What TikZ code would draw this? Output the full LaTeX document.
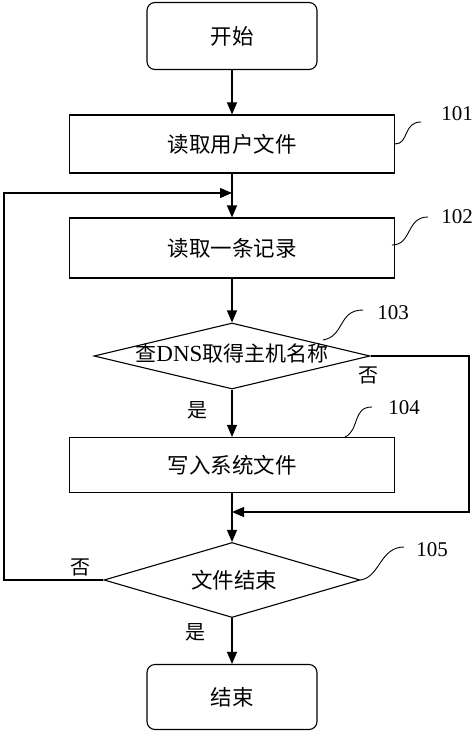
\documentclass[tikz,border=0pt]{standalone}
\usepackage{fontspec}
\setmainfont{Liberation Serif}
\newfontfamily\cjk{Noto Sans CJK SC}
\usetikzlibrary{shapes.geometric,arrows.meta}
\begin{document}
\begin{tikzpicture}[x=1pt,y=-1pt,
  line width=1.1pt,
  arr/.style={-{Triangle[length=12pt,width=10pt]}},
  txt/.style={font=\cjk\fontsize{21.5}{24}\selectfont},
  term/.style={draw,rounded corners=8pt,minimum width=170pt,minimum height=67pt,inner sep=0pt,txt},
  proc/.style={draw,minimum width=325pt,inner sep=0pt,txt},
  dia/.style={draw,diamond,inner sep=0pt},
  num/.style={font=\fontsize{21}{24}\selectfont,inner sep=0pt},
  yn/.style={font=\cjk\fontsize{20}{22}\selectfont,inner sep=0pt}]
\useasboundingbox (0,0) rectangle (474,733);
\node[term] (start) at (232,36) {开始};
\node[proc,minimum height=58pt] (b101) at (232,144) {读取用户文件};
\node[proc,minimum height=60pt] (b102) at (232,248) {读取一条记录};
\node[dia,minimum width=276pt,minimum height=66pt] (d103) at (232,356) {};
\node[inner sep=0pt] (t103) at (232,353) {{\cjk\fontsize{21}{24}\selectfont 查}{\fontsize{23}{24}\selectfont DNS}{\cjk\fontsize{21}{24}\selectfont 取得主机名称}};
\node[proc,minimum height=55pt] (b104) at (232,465) {写入系统文件};
\node[dia,minimum width=256pt,minimum height=75pt] (d105) at (232,580) {};
\node[txt,inner sep=0pt] (t105) at (234,580) {文件结束};
\node[term,minimum height=65pt] (end) at (232,697) {结束};
\coordinate (j1) at (232,193);
\coordinate (j2) at (232,512);
\coordinate (lp) at (4,400);
\coordinate (rp) at (469,430);
% main flow
\draw[arr] (start) -- (b101);
\draw (b101) -- (j1);
\draw[arr] (j1) -- (b102);
\draw[arr] (b102) -- (d103);
\draw[arr] (d103) -- (b104);
\draw (b104) -- (j2);
\draw[arr] (j2) -- (d105.north);
\draw[arr] (d105) -- (end);
% loops
\draw[arr] (d105.west) -| (lp) |- (j1);
\draw[arr] (d103.east) -| (rp) |- (j2);
% yes/no labels
\node[yn] (n1) at (368,375) {否};
\node[yn] (y1) at (197,410) {是};
\node[yn] (n2) at (80,567) {否};
\node[yn] (y2) at (195,632) {是};
% reference numbers
\node[num] (l101) at (457,114) {101};
\node[num] (l102) at (457,217) {102};
\node[num] (l103) at (393,313) {103};
\node[num] (l104) at (404,408) {104};
\node[num] (l105) at (432,550) {105};
\draw[line width=0.9pt] (b101.east) .. controls (409,144) and (403,122) .. (421,122);
\draw[line width=0.9pt] (392,245) .. controls (412,245) and (406,217) .. (428,217);
\draw[line width=0.9pt] (323,340) .. controls (345,336) and (338,310) .. (363,310);
\draw[line width=0.9pt] (345,437) .. controls (360,430) and (352,407) .. (372,407);
\draw[line width=0.9pt] (d105.east) .. controls (380,577) and (380,547) .. (404,547);
\end{tikzpicture}
\end{document}
